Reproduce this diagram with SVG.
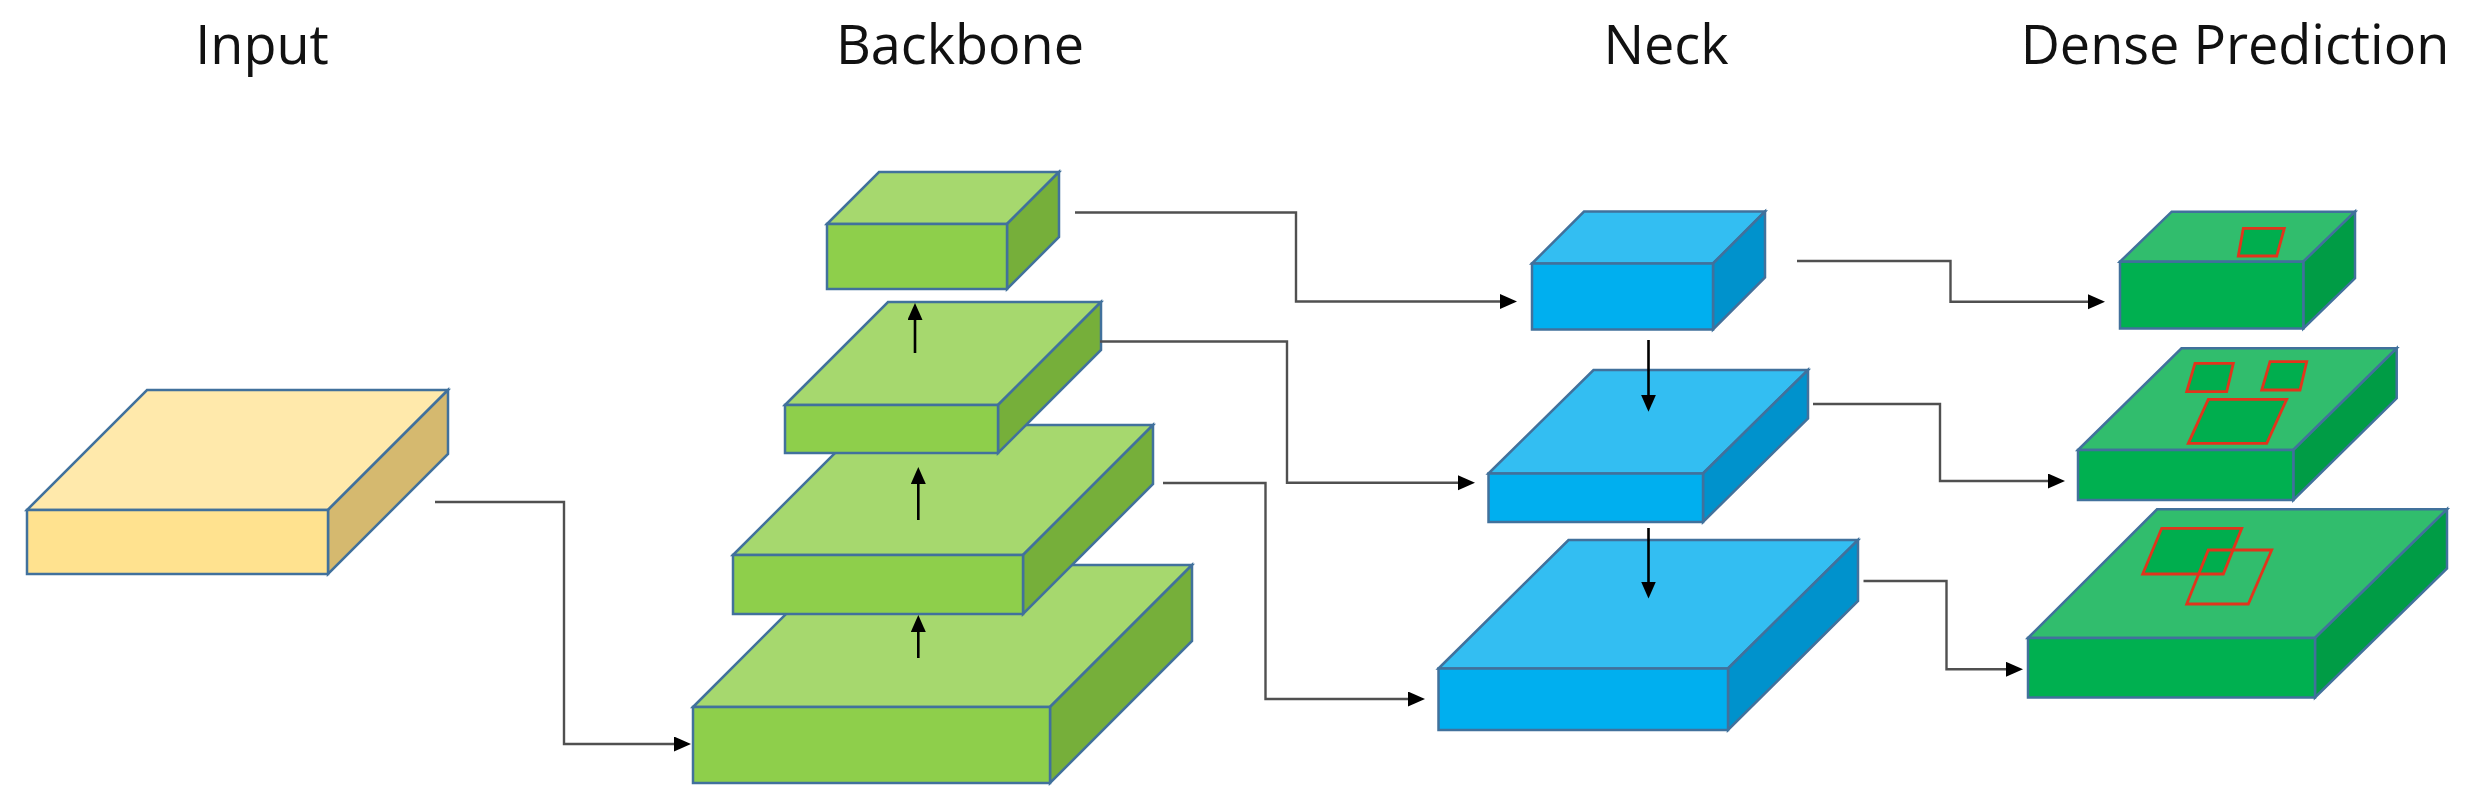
<svg xmlns="http://www.w3.org/2000/svg" width="2470" height="810" viewBox="0 0 2470 810">
<style>
  .title { font-family: "Open Sans", "Liberation Sans", sans-serif; font-size: 54px; fill: #111; text-anchor: middle; }
  .face { stroke: #41719C; stroke-width: 2.5; stroke-linejoin: miter; }
  .in-top { fill: #FFE9AB; } .in-front { fill: #FFE28F; } .in-right { fill: #D5B96F; }
  .bb-top { fill: #A6D86E; } .bb-front { fill: #8ECF4B; } .bb-right { fill: #76AF3A; }
  .nk-top { fill: #33BEF2; } .nk-front { fill: #00AFEF; } .nk-right { fill: #0092CC; }
  .dp-top { fill: #31BD6D; } .dp-front { fill: #00B050; } .dp-right { fill: #009C45; }
  .det { stroke: #E2341C; stroke-width: 2.8; fill: #00AE4E; stroke-linejoin: miter; }
  .det-open { stroke: #E2341C; stroke-width: 2.8; fill: none; }
  .conn { fill: none; stroke: #505050; stroke-width: 2.4; marker-end: url(#arrow); }
  .flow { fill: none; stroke: #000; stroke-width: 2.6; marker-end: url(#arrow); }
</style>
<defs>
  <marker id="arrow" markerUnits="userSpaceOnUse" markerWidth="18" markerHeight="16" refX="13" refY="7.5" orient="auto">
    <path d="M0,0 L17,7.5 L0,15 Z" fill="#000"/>
  </marker>
</defs>
<rect width="2470" height="810" fill="#fff"/>

<g id="titles">
  <text class="title" x="262" y="64">Input</text>
  <text class="title" x="960" y="64">Backbone</text>
  <text class="title" x="1666" y="64">Neck</text>
  <text class="title" x="2235" y="64">Dense Prediction</text>
</g>

<g id="input">
  <polygon class="face in-top" points="27,510 147,390 448,390 328,510"/>
  <polygon class="face in-right" points="328,510 448,390 448,454 328,574"/>
  <rect class="face in-front" x="27" y="510" width="301" height="64"/>
</g>

<g id="backbone-1">
  <polygon class="face bb-top" points="693,707 835,565 1192,565 1050,707"/>
  <polygon class="face bb-right" points="1050,707 1192,565 1192,641 1050,783"/>
  <rect class="face bb-front" x="693" y="707" width="357" height="76"/>
</g>
<g id="backbone-2">
  <polygon class="face bb-top" points="733,555 863,425 1153,425 1023,555"/>
  <polygon class="face bb-right" points="1023,555 1153,425 1153,484 1023,614"/>
  <rect class="face bb-front" x="733" y="555" width="290" height="59"/>
</g>
<g id="backbone-3">
  <polygon class="face bb-top" points="785,405 888,302 1101,302 998,405"/>
  <polygon class="face bb-right" points="998,405 1101,302 1101,350 998,453"/>
  <rect class="face bb-front" x="785" y="405" width="213" height="48"/>
</g>
<g id="backbone-4">
  <polygon class="face bb-top" points="827,224 879,172 1059,172 1007,224"/>
  <polygon class="face bb-right" points="1007,224 1059,172 1059,237 1007,289"/>
  <rect class="face bb-front" x="827" y="224" width="180" height="65"/>
</g>

<g id="neck-1">
  <polygon class="face nk-top" points="1532,263.5 1584,211.5 1765,211.5 1713,263.5"/>
  <polygon class="face nk-right" points="1713,263.5 1765,211.5 1765,277.5 1713,329.5"/>
  <rect class="face nk-front" x="1532" y="263.5" width="181" height="66"/>
</g>
<g id="neck-2">
  <polygon class="face nk-top" points="1488.5,473.5 1593.5,370 1808,370 1703,473.5"/>
  <polygon class="face nk-right" points="1703,473.5 1808,370 1808,418.5 1703,522"/>
  <rect class="face nk-front" x="1488.5" y="473.5" width="214.5" height="48.5"/>
</g>
<g id="neck-3">
  <polygon class="face nk-top" points="1438.5,668.5 1568.5,540 1858,540 1728,668.5"/>
  <polygon class="face nk-right" points="1728,668.5 1858,540 1858,601 1728,730"/>
  <rect class="face nk-front" x="1438.5" y="668.5" width="289.5" height="61.5"/>
</g>

<g id="dense-1">
  <polygon class="face dp-top" points="2120,261.7 2171.7,211.7 2355,211.7 2303.3,261.7"/>
  <polygon class="face dp-right" points="2303.3,261.7 2355,211.7 2355,278.3 2303.3,328.5"/>
  <rect class="face dp-front" x="2120" y="261.7" width="183.3" height="66.8"/>
  <polygon class="det" points="2243.3,228.3 2284.3,228.3 2276.7,256 2238.3,256"/>
</g>
<g id="dense-2">
  <polygon class="face dp-top" points="2078,450 2181.5,348.3 2396.7,348.3 2293.3,450"/>
  <polygon class="face dp-right" points="2293.3,450 2396.7,348.3 2396.7,398.3 2293.3,500"/>
  <rect class="face dp-front" x="2078" y="450" width="215.3" height="50"/>
  <polygon class="det" points="2195,363.3 2233.3,363.3 2226.7,391.7 2186.7,391.7"/>
  <polygon class="det" points="2270,361.7 2306.7,361.7 2300,390 2261.7,390"/>
  <polygon class="det" points="2208.3,399.3 2286.7,399.3 2266.7,443.3 2188.3,443.3"/>
</g>
<g id="dense-3">
  <polygon class="face dp-top" points="2028,638 2157,509.3 2447,509.3 2315,638"/>
  <polygon class="face dp-right" points="2315,638 2447,509.3 2447,568.5 2315,697.5"/>
  <rect class="face dp-front" x="2028" y="638" width="287" height="59.5"/>
  <polygon class="det" points="2161.7,528.3 2241.7,528.3 2223.3,574 2142.7,574"/>
  <polygon class="det-open" points="2208.3,550 2271.7,550 2248.3,604 2186.7,604"/>
</g>

<g id="connectors">
  <path class="conn" d="M435,502 H564 V744 H687"/>
  <path class="conn" d="M1075,212.5 H1296 V301.5 H1513"/>
  <path class="conn" d="M1100,341.5 H1287 V482.8 H1471"/>
  <path class="conn" d="M1163,483 H1265.5 V699 H1421"/>
  <path class="conn" d="M1797,261 H1950.5 V301.7 H2101"/>
  <path class="conn" d="M1813,404 H1940 V481 H2061"/>
  <path class="conn" d="M1863.5,581 H1946.5 V669.3 H2019"/>
  <path class="flow" d="M918.3,658 V619"/>
  <path class="flow" d="M918.3,520 V471"/>
  <path class="flow" d="M915,353 V307"/>
  <path class="flow" d="M1648.5,340 V407.7"/>
  <path class="flow" d="M1648.5,528 V594.5"/>
</g>
</svg>
